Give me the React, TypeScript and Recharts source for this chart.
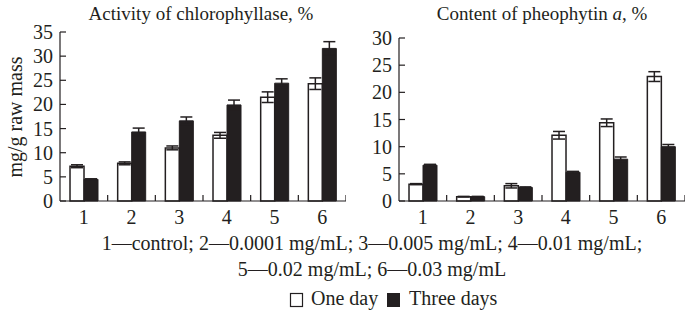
import { BarChart, Bar, XAxis, YAxis, ErrorBar } from 'recharts';

// group labels (treatment number)
const categories = ['1', '2', '3', '4', '5', '6'];

// Activity of chlorophyllase
const chlOneDay = [7.2, 7.8, 11.0, 13.6, 21.5, 24.3];
const chlOneDayErr = [0.3, 0.3, 0.4, 0.6, 1.1, 1.2];
const chlThreeDays = [4.5, 14.3, 16.6, 19.9, 24.4, 31.6];
const chlThreeDaysErr = [0.1, 0.8, 0.8, 1.0, 0.9, 1.4];

// Content of pheophytin a
const pheoOneDay = [3.1, 0.8, 2.8, 12.1, 14.4, 22.9];
const pheoOneDayErr = [0.1, 0.05, 0.4, 0.7, 0.7, 0.9];
const pheoThreeDays = [6.6, 0.8, 2.5, 5.3, 7.7, 10.0];
const pheoThreeDaysErr = [0.15, 0.05, 0.1, 0.15, 0.4, 0.4];

const chlTicks = [0, 5, 10, 15, 20, 25, 30, 35];
const pheoTicks = [0, 5, 10, 15, 20, 25, 30];

const chlData = categories.map((c, i) => ({
  cat: c,
  one: chlOneDay[i],
  oneErr: chlOneDayErr[i],
  three: chlThreeDays[i],
  threeErr: chlThreeDaysErr[i],
}));

const pheoData = categories.map((c, i) => ({
  cat: c,
  one: pheoOneDay[i],
  oneErr: pheoOneDayErr[i],
  three: pheoThreeDays[i],
  threeErr: pheoThreeDaysErr[i],
}));

const FONT = 'Liberation Serif';
const INK = '#231f20';
const txt = { fontFamily: FONT, fill: INK };

// x tick: label at the group centre, small inward mark at the group boundary
const XTick = (props: any) => {
  const { x, y, payload, band } = props;
  const bx = x + band / 2;
  return (
    <g>
      <line x1={bx} x2={bx} y1={y} y2={y - 6} stroke={INK} strokeWidth={1.2} />
      <text x={x} y={y + 23} textAnchor='middle' fontSize={20} style={txt}>
        {payload.value}
      </text>
    </g>
  );
};

// y tick: mark pointing into the plot, label to the left
const YTick = (props: any) => {
  const { x, y, payload } = props;
  return (
    <g>
      <line x1={x} x2={x + 6} y1={y} y2={y} stroke={INK} strokeWidth={1.2} />
      <text x={x - 7} y={y + 7} textAnchor='end' fontSize={20} style={txt}>
        {payload.value}
      </text>
    </g>
  );
};

const Panel = ({ data, max, ticks, width, left, top }: any) => {
  const plotW = width - left - 40;
  return (
    <BarChart
      width={width}
      height={230}
      data={data}
      margin={{ top, right: 0, left, bottom: 0 }}
      barCategoryGap='21%'
      barGap={0}
    >
      <XAxis
        dataKey='cat'
        height={29}
        tickSize={0}
        tickMargin={0}
        tickLine={false}
        axisLine={{ stroke: INK, strokeWidth: 1.2 }}
        tick={<XTick band={plotW / 6} />}
        interval={0}
      />
      <YAxis
        width={40}
        domain={[0, max]}
        ticks={ticks}
        tickSize={0}
        tickMargin={0}
        tickLine={false}
        axisLine={{ stroke: INK, strokeWidth: 1.2 }}
        tick={<YTick />}
        interval={0}
      />
      <Bar dataKey='one' fill='#ffffff' stroke={INK} strokeWidth={1.5} isAnimationActive={false}>
        <ErrorBar dataKey='oneErr' width={6} stroke={INK} strokeWidth={1.5} />
      </Bar>
      <Bar dataKey='three' fill={INK} stroke={INK} strokeWidth={1} isAnimationActive={false}>
        <ErrorBar dataKey='threeErr' width={6} stroke={INK} strokeWidth={1.5} />
      </Bar>
    </BarChart>
  );
};

const App = () => {
  return (
    <div style={{ position: 'absolute', left: 0, top: 0, width: 685, height: 311, background: '#fff' }}>
      <div style={{ position: 'absolute', left: 0, top: 0 }}>
        <Panel data={chlData} max={35} ticks={chlTicks} width={346} left={20} top={32} />
      </div>
      <div style={{ position: 'absolute', left: 347, top: 0 }}>
        <Panel data={pheoData} max={30} ticks={pheoTicks} width={338} left={12} top={38} />
      </div>
      <svg
        width={685}
        height={311}
        style={{ position: 'absolute', left: 0, top: 0, pointerEvents: 'none' }}
      >
        <text x={201} y={20} textAnchor='middle' fontSize={19} style={txt}>
          Activity of chlorophyllase, %
        </text>
        <text x={542} y={20} textAnchor='middle' fontSize={19} style={txt}>
          Content of pheophytin <tspan fontStyle='italic'>a</tspan>, %
        </text>
        <text
          x={15}
          y={117}
          textAnchor='middle'
          dominantBaseline='central'
          fontSize={20}
          style={txt}
          transform='rotate(-90, 15, 117)'
        >
          mg/g raw mass
        </text>
        <text x={372} y={250} textAnchor='middle' fontSize={20} style={txt}>
          1—control; 2—0.0001 mg/mL; 3—0.005 mg/mL; 4—0.01 mg/mL;
        </text>
        <text x={372} y={276} textAnchor='middle' fontSize={20} style={txt}>
          5—0.02 mg/mL; 6—0.03 mg/mL
        </text>
        <rect x={290.5} y={293.5} width={12} height={13} fill='#fff' stroke={INK} strokeWidth={1.2} />
        <text x={311} y={305} fontSize={20} style={txt}>
          One day
        </text>
        <rect x={387} y={293} width={13} height={14} fill={INK} />
        <text x={409} y={305} fontSize={20} style={txt}>
          Three days
        </text>
      </svg>
    </div>
  );
};

export default App;
